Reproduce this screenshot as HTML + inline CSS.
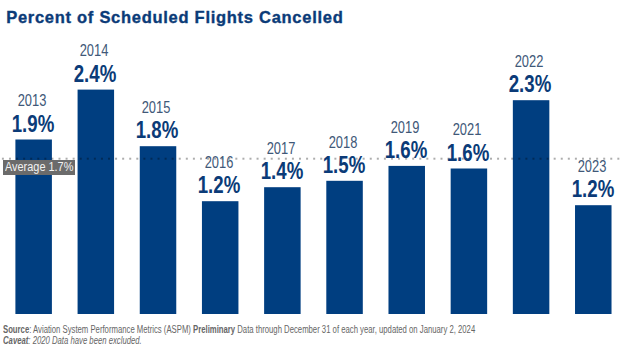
<!DOCTYPE html>
<html><head><meta charset="utf-8"><style>
html,body{margin:0;padding:0;background:#fff;}
body{width:624px;height:349px;position:relative;overflow:hidden;font-family:"Liberation Sans",sans-serif;}
#w{position:absolute;left:0;top:0;width:624px;height:349px;}
.t{position:absolute;white-space:nowrap;line-height:1;}
.bar{position:absolute;background:#003e80;}
.yr{color:#405878;font-size:15.8px;transform-origin:50% 0;width:100px;text-align:center;}
.pc{color:#0b3b78;font-weight:bold;font-size:24.4px;transform-origin:50% 0;width:100px;text-align:center;}
.title{left:6.2px;font-size:16.5px;font-weight:bold;color:#0b3b78;letter-spacing:0.72px;-webkit-text-stroke:0.35px #0b3b78;}
.foot{left:2.8px;font-size:10px;color:#666;transform:scaleX(0.7725);transform-origin:0 0;}
.avg{position:absolute;left:3.2px;top:160px;width:71.8px;height:15px;background:#6b6b6b;}
.avgt{left:4.6px;font-size:12px;color:#f2f2f2;transform:scaleX(0.91);transform-origin:0 0;}
</style></head><body>

<div id="w">
<div class="t title" style="top:8.85px">Percent of Scheduled Flights Cancelled</div>
<svg style="position:absolute;left:0;top:0" width="624" height="349"><g fill="#003e80"><rect x="15.40" y="139.5" width="36.5" height="174.50"/><rect x="77.58" y="89.6" width="36.5" height="224.40"/><rect x="139.76" y="146.2" width="36.5" height="167.80"/><rect x="201.94" y="201.2" width="36.5" height="112.80"/><rect x="264.12" y="187.2" width="36.5" height="126.80"/><rect x="326.30" y="180.8" width="36.5" height="133.20"/><rect x="388.48" y="165.9" width="36.5" height="148.10"/><rect x="450.66" y="168.5" width="36.5" height="145.50"/><rect x="512.84" y="100.2" width="36.5" height="213.80"/><rect x="575.02" y="205.2" width="36.5" height="108.80"/></g><g fill="#000" fill-opacity="0.32"><rect x="1.90" y="157.7" width="2" height="2"/><rect x="8.97" y="157.7" width="2" height="2"/><rect x="16.05" y="157.7" width="2" height="2"/><rect x="23.12" y="157.7" width="2" height="2"/><rect x="30.20" y="157.7" width="2" height="2"/><rect x="37.27" y="157.7" width="2" height="2"/><rect x="44.34" y="157.7" width="2" height="2"/><rect x="51.42" y="157.7" width="2" height="2"/><rect x="58.49" y="157.7" width="2" height="2"/><rect x="65.57" y="157.7" width="2" height="2"/><rect x="72.64" y="157.7" width="2" height="2"/><rect x="79.71" y="157.7" width="2" height="2"/><rect x="86.79" y="157.7" width="2" height="2"/><rect x="93.86" y="157.7" width="2" height="2"/><rect x="100.94" y="157.7" width="2" height="2"/><rect x="108.01" y="157.7" width="2" height="2"/><rect x="115.08" y="157.7" width="2" height="2"/><rect x="122.16" y="157.7" width="2" height="2"/><rect x="129.23" y="157.7" width="2" height="2"/><rect x="136.31" y="157.7" width="2" height="2"/><rect x="143.38" y="157.7" width="2" height="2"/><rect x="150.45" y="157.7" width="2" height="2"/><rect x="157.53" y="157.7" width="2" height="2"/><rect x="164.60" y="157.7" width="2" height="2"/><rect x="171.68" y="157.7" width="2" height="2"/><rect x="178.75" y="157.7" width="2" height="2"/><rect x="185.82" y="157.7" width="2" height="2"/><rect x="192.90" y="157.7" width="2" height="2"/><rect x="199.97" y="157.7" width="2" height="2"/><rect x="207.05" y="157.7" width="2" height="2"/><rect x="214.12" y="157.7" width="2" height="2"/><rect x="221.19" y="157.7" width="2" height="2"/><rect x="228.27" y="157.7" width="2" height="2"/><rect x="235.34" y="157.7" width="2" height="2"/><rect x="242.42" y="157.7" width="2" height="2"/><rect x="249.49" y="157.7" width="2" height="2"/><rect x="256.56" y="157.7" width="2" height="2"/><rect x="263.64" y="157.7" width="2" height="2"/><rect x="270.71" y="157.7" width="2" height="2"/><rect x="277.79" y="157.7" width="2" height="2"/><rect x="284.86" y="157.7" width="2" height="2"/><rect x="291.93" y="157.7" width="2" height="2"/><rect x="299.01" y="157.7" width="2" height="2"/><rect x="306.08" y="157.7" width="2" height="2"/><rect x="313.16" y="157.7" width="2" height="2"/><rect x="320.23" y="157.7" width="2" height="2"/><rect x="327.30" y="157.7" width="2" height="2"/><rect x="334.38" y="157.7" width="2" height="2"/><rect x="341.45" y="157.7" width="2" height="2"/><rect x="348.53" y="157.7" width="2" height="2"/><rect x="355.60" y="157.7" width="2" height="2"/><rect x="362.67" y="157.7" width="2" height="2"/><rect x="369.75" y="157.7" width="2" height="2"/><rect x="376.82" y="157.7" width="2" height="2"/><rect x="383.90" y="157.7" width="2" height="2"/><rect x="390.97" y="157.7" width="2" height="2"/><rect x="398.04" y="157.7" width="2" height="2"/><rect x="405.12" y="157.7" width="2" height="2"/><rect x="412.19" y="157.7" width="2" height="2"/><rect x="419.27" y="157.7" width="2" height="2"/><rect x="426.34" y="157.7" width="2" height="2"/><rect x="433.41" y="157.7" width="2" height="2"/><rect x="440.49" y="157.7" width="2" height="2"/><rect x="447.56" y="157.7" width="2" height="2"/><rect x="454.64" y="157.7" width="2" height="2"/><rect x="461.71" y="157.7" width="2" height="2"/><rect x="468.78" y="157.7" width="2" height="2"/><rect x="475.86" y="157.7" width="2" height="2"/><rect x="482.93" y="157.7" width="2" height="2"/><rect x="490.01" y="157.7" width="2" height="2"/><rect x="497.08" y="157.7" width="2" height="2"/><rect x="504.15" y="157.7" width="2" height="2"/><rect x="511.23" y="157.7" width="2" height="2"/><rect x="518.30" y="157.7" width="2" height="2"/><rect x="525.38" y="157.7" width="2" height="2"/><rect x="532.45" y="157.7" width="2" height="2"/><rect x="539.52" y="157.7" width="2" height="2"/><rect x="546.60" y="157.7" width="2" height="2"/><rect x="553.67" y="157.7" width="2" height="2"/><rect x="560.75" y="157.7" width="2" height="2"/><rect x="567.82" y="157.7" width="2" height="2"/><rect x="574.89" y="157.7" width="2" height="2"/><rect x="581.97" y="157.7" width="2" height="2"/><rect x="589.04" y="157.7" width="2" height="2"/><rect x="596.12" y="157.7" width="2" height="2"/><rect x="603.19" y="157.7" width="2" height="2"/><rect x="610.26" y="157.7" width="2" height="2"/><rect x="617.34" y="157.7" width="2" height="2"/></g></svg>
<div class="t yr" style="left:-17.95px;top:93.24px;transform:scaleX(0.815)">2013</div>
<div class="t pc" style="left:-17.05px;top:111.72px;transform:scaleX(0.765)">1.9%</div>
<div class="t yr" style="left:44.23px;top:43.34px;transform:scaleX(0.815)">2014</div>
<div class="t pc" style="left:45.13px;top:61.82px;transform:scaleX(0.765)">2.4%</div>
<div class="t yr" style="left:106.41px;top:99.94px;transform:scaleX(0.815)">2015</div>
<div class="t pc" style="left:107.31px;top:118.42px;transform:scaleX(0.765)">1.8%</div>
<div class="t yr" style="left:168.59px;top:154.94px;transform:scaleX(0.815)">2016</div>
<div class="t pc" style="left:169.49px;top:173.42px;transform:scaleX(0.765)">1.2%</div>
<div class="t yr" style="left:230.77px;top:140.94px;transform:scaleX(0.815)">2017</div>
<div class="t pc" style="left:231.67px;top:159.42px;transform:scaleX(0.765)">1.4%</div>
<div class="t yr" style="left:292.95px;top:134.54px;transform:scaleX(0.815)">2018</div>
<div class="t pc" style="left:293.85px;top:153.02px;transform:scaleX(0.765)">1.5%</div>
<div class="t yr" style="left:355.13px;top:119.64px;transform:scaleX(0.815)">2019</div>
<div class="t pc" style="left:356.03px;top:138.12px;transform:scaleX(0.765)">1.6%</div>
<div class="t yr" style="left:417.31px;top:122.24px;transform:scaleX(0.815)">2021</div>
<div class="t pc" style="left:418.21px;top:140.72px;transform:scaleX(0.765)">1.6%</div>
<div class="t yr" style="left:479.49px;top:53.94px;transform:scaleX(0.815)">2022</div>
<div class="t pc" style="left:480.39px;top:72.42px;transform:scaleX(0.765)">2.3%</div>
<div class="t yr" style="left:541.67px;top:158.94px;transform:scaleX(0.815)">2023</div>
<div class="t pc" style="left:542.57px;top:177.42px;transform:scaleX(0.765)">1.2%</div>
<div class="avg"></div><div class="t avgt" style="top:161.33px">Average 1.7%</div>
<div class="t foot" style="top:324.89px"><b>Source</b>: Aviation System Performance Metrics (ASPM) <b>Preliminary</b> Data through December 31 of each year, updated on January 2, 2024</div>
<div class="t foot" style="top:335.59px;font-style:italic"><b>Caveat</b>: 2020 Data have been excluded.</div>
</div></body></html>
